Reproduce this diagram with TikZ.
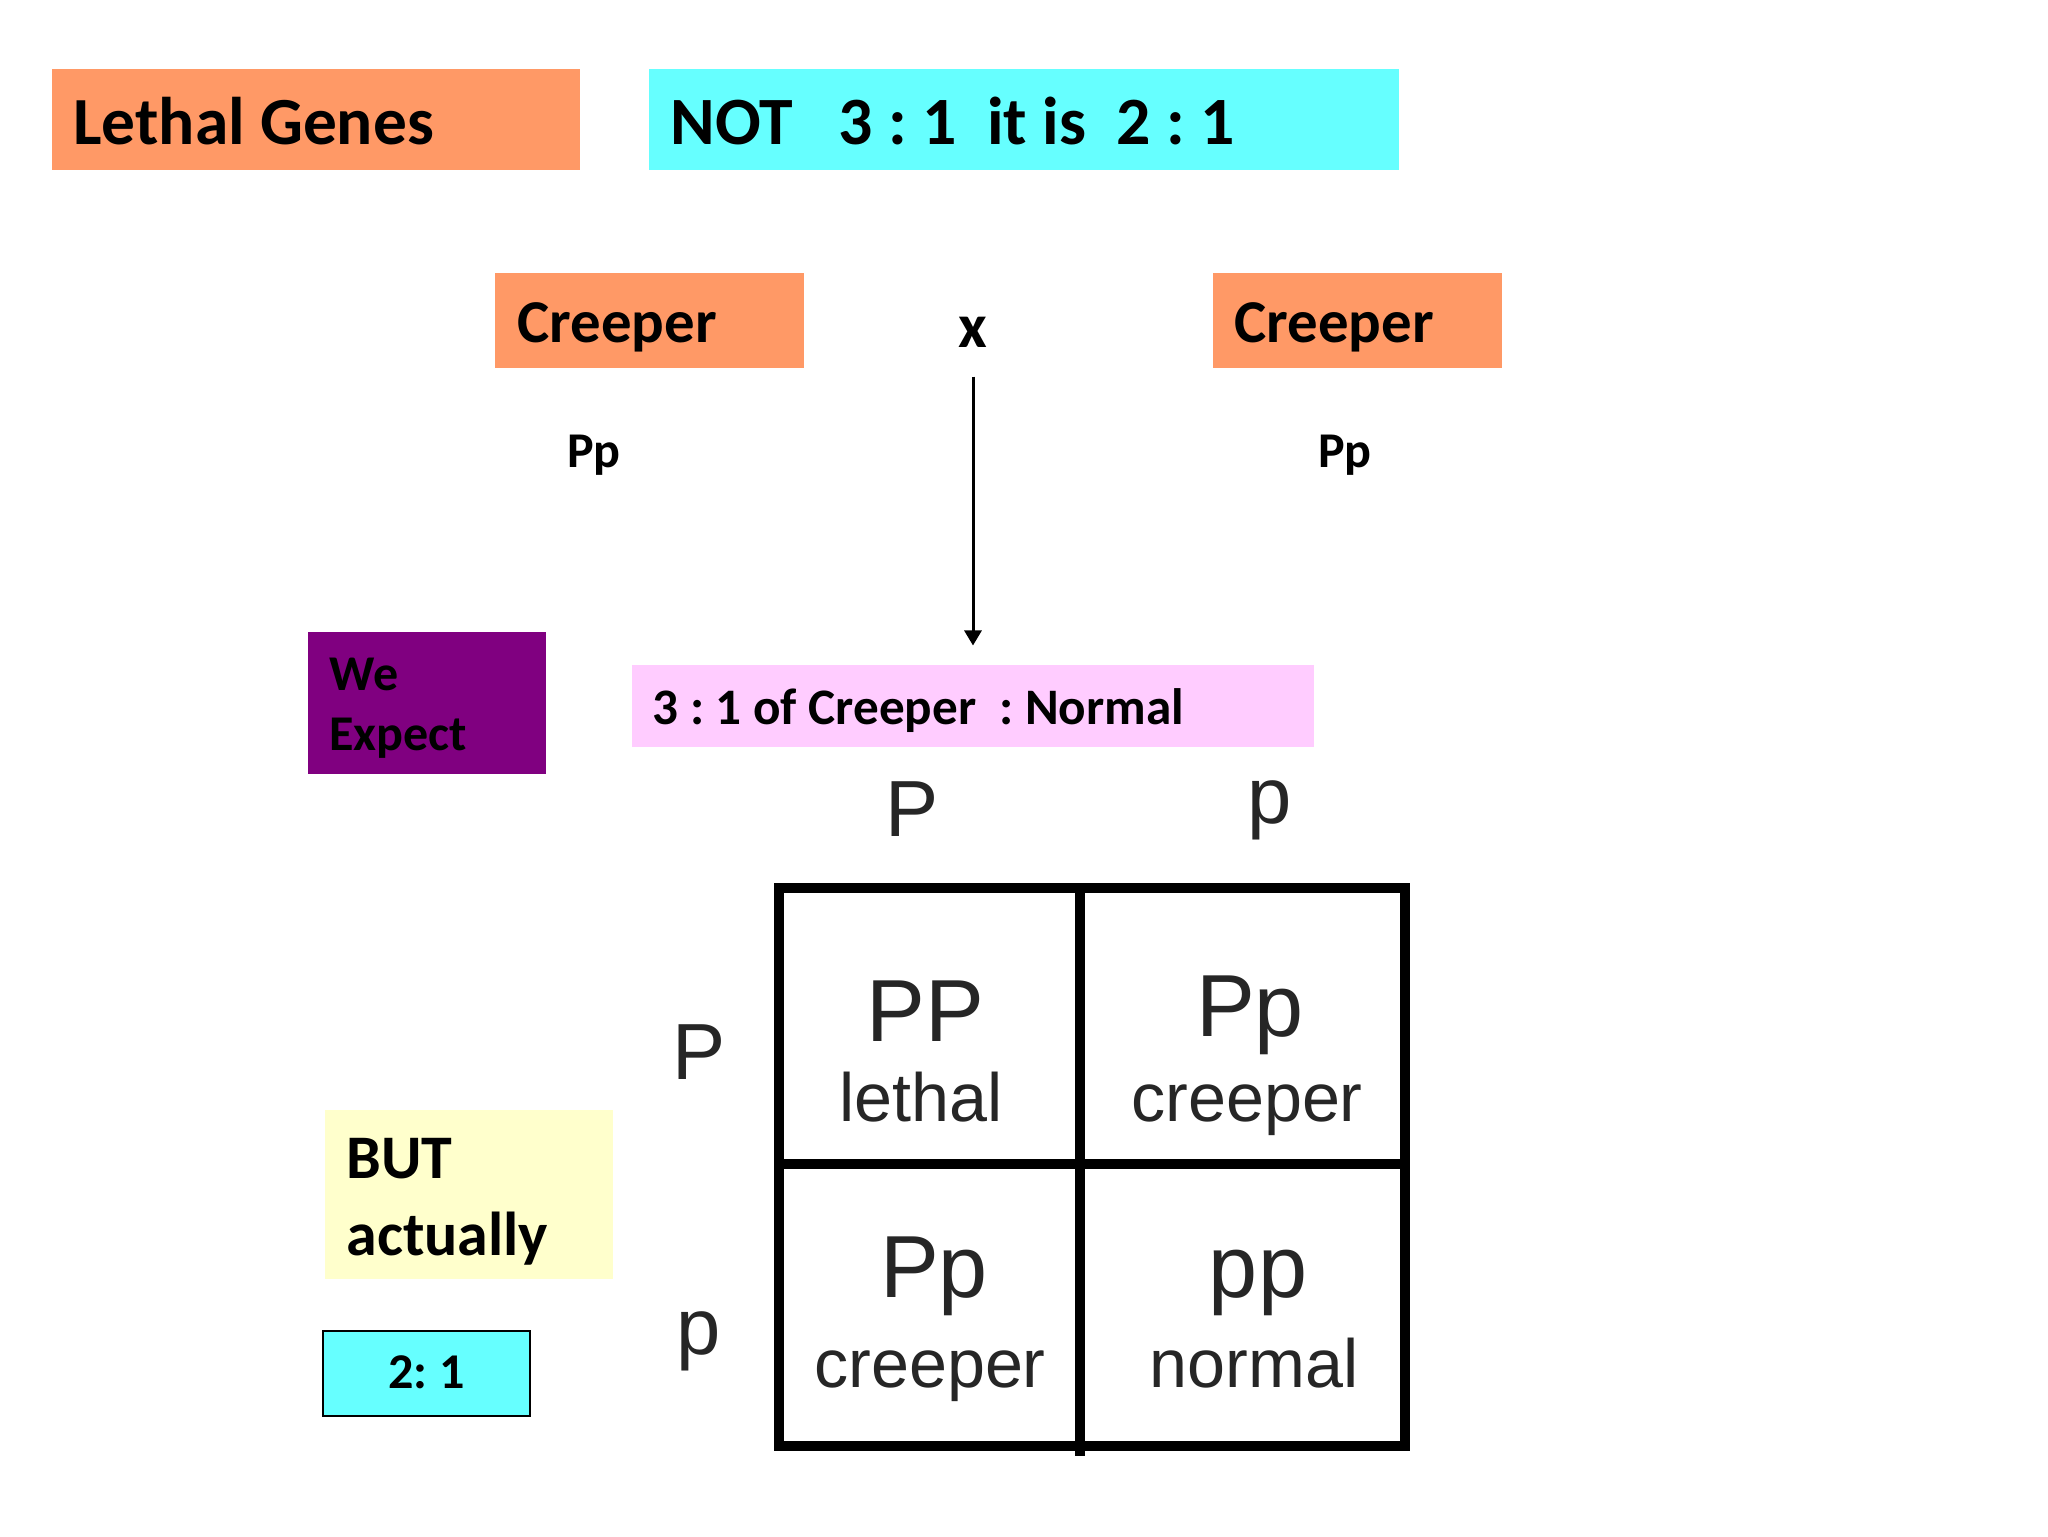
\documentclass[tikz,border=0pt]{standalone}
\usepackage{fontspec}
\setmainfont{Carlito}
\newfontfamily\punnettfont{Liberation Sans}
\definecolor{slidepeach}{RGB}{255,153,102}
\definecolor{slideaqua}{RGB}{102,255,255}
\definecolor{slideplum}{RGB}{128,0,128}
\definecolor{slidepink}{RGB}{255,204,255}
\definecolor{slidecream}{RGB}{255,255,204}
\usetikzlibrary{arrows.meta,positioning}
\frenchspacing

\begin{document}
\begin{tikzpicture}[
  x=0.3516pt, y=-0.3516pt,
  slidebox/.style={
    anchor=base west, inner xsep=7.7pt, inner ysep=0pt,
    align=flush left, font=\bfseries
  },
  parentgeno/.style={anchor=base, inner sep=0pt, font=\bfseries\fontsize{17.6}{20}\selectfont},
  allele/.style={anchor=base, inner sep=0pt, text=black!85, font=\punnettfont\fontsize{28}{30}\selectfont},
  geno/.style={anchor=base, inner sep=0pt, text=black!85, font=\punnettfont\fontsize{31}{33}\selectfont},
  pheno/.style={anchor=base, inner sep=0pt, text=black!85, font=\punnettfont\fontsize{24}{26}\selectfont},
  gridline/.style={line width=3.5pt, line join=miter}
]
\useasboundingbox (0,0) rectangle (2048,1536);

% title row
\node[slidebox, fill=slidepeach, text width=170.5pt, text height=26.4pt, text depth=9.1pt,
  font=\bfseries\fontsize{23.7}{28}\selectfont] (title) at (51,144) {Lethal Genes};
\node[slidebox, fill=slideaqua, text width=248.6pt, text height=26.4pt, text depth=9.1pt,
  font=\bfseries\fontsize{23.8}{28}\selectfont] (claim) at (648,144) {NOT~~~3 : 1~~it is~~2 : 1};

% parents
\node[slidebox, fill=slidepeach, inner xsep=8.1pt, text width=92.5pt, text height=24.3pt, text depth=9.1pt,
  font=\bfseries\fontsize{21.4}{25}\selectfont] (mum) at (494,342) {Creeper};
\node[slidebox, fill=slidepeach, text width=86.5pt, text height=24.3pt, text depth=9.1pt,
  font=\bfseries\fontsize{21.4}{25}\selectfont] (dad) at (1212,342) {Creeper};
\node[anchor=base, inner sep=0pt, font=\bfseries\fontsize{22}{24}\selectfont] (cross) at (973,347) {x};
\node[parentgeno] (mumgeno) at (594,467) {Pp};
\node[parentgeno] (dadgeno) at (1345,467) {Pp};

% expectation
\node[slidebox, fill=slideplum, text width=68.6pt, text height=20.4pt, text depth=29.5pt,
  font=\bfseries\fontsize{17.6}{21.4}\selectfont] (expect) at (307,690) {We\\Expect};
\node[slidebox, fill=slidepink, inner xsep=7.4pt, text width=225pt, text height=20.7pt, text depth=8.1pt,
  font=\bfseries\fontsize{18}{21}\selectfont] (ratio) at (631,724) {3 : 1 of Creeper~~: Normal};
\draw[line width=1.05pt, -{Triangle[width=6pt, length=5.3pt]}, shorten <=10.2pt, shorten >=6.7pt]
  (cross.south) -- (cross.south |- ratio.north);

% reality
\node[slidebox, fill=slidecream, text width=86.1pt, text height=23.9pt, text depth=35.5pt,
  font=\bfseries\fontsize{21.8}{27.4}\selectfont] (actual) at (324,1178) {BUT\\actually};
\node[anchor=base, draw=black, line width=0.7pt, fill=slideaqua, inner sep=0pt,
  minimum width=72.8pt, text height=20pt, text depth=9.8pt,
  font=\bfseries\fontsize{17.6}{21}\selectfont] (real) at (426.5,1388) {2: 1};

% punnett square
\draw[gridline] (779,888) rectangle (1404.5,1446);
\draw[gridline] (779,1164) -- (1404.5,1164);
\draw[gridline] (1080,888) -- (1080,1456);

\node[allele] (colP) at (912,836) {P};
\node[allele] (colp) at (1270,823) {p};
\node[allele] (rowP) at (699,1079) {P};
\node[allele] (rowp) at (699,1354) {p};

\node[geno]  (cellPP) at (925,1041) {PP};
\node[pheno] (cellPPt) at (921,1121) {lethal};
\node[geno]  (cellPpa) at (1250,1036) {Pp};
\node[pheno] (cellPpat) at (1247,1121) {creeper};
\node[geno]  (cellPpb) at (934,1297) {Pp};
\node[pheno] (cellPpbt) at (930,1387) {creeper};
\node[geno]  (cellpp) at (1258,1297) {pp};
\node[pheno] (cellppt) at (1254,1387) {normal};
\end{tikzpicture}
\end{document}
